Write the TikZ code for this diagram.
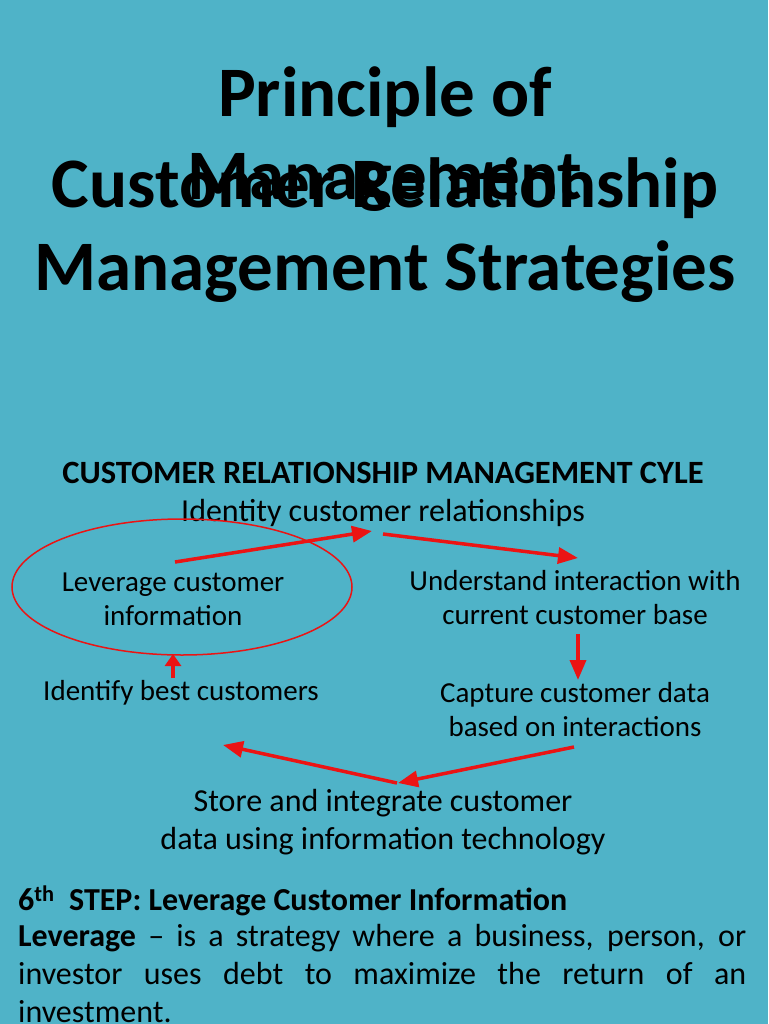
\documentclass[tikz,border=0pt]{standalone}
\usepackage{fontspec}
\setmainfont{Carlito}
\usetikzlibrary{positioning, arrows.meta}
\definecolor{slidebg}{RGB}{79,179,200}
\definecolor{cyclered}{RGB}{235,20,20}
\begin{document}
\begin{tikzpicture}[x=1pt, y=-1pt,
    title/.style={font=\fontsize{71}{83}\selectfont, align=center, text=black},
    step label/.style={font=\fontsize{29}{34}\selectfont, align=center},
    cycle arrow/.style={draw=cyclered, line width=3.5pt, -{Triangle[length=20pt,width=16pt]}}]

  \fill[slidebg] (0,0) rectangle (768,1024);
  \useasboundingbox (0,0) rectangle (768,1024);

  % overlapping titles
  \node[title] (title1) at (385,139) {\textbf{Principle of}\\\textbf{Management}};
  \node[title] (title2) at (385,230) {\textbf{Customer Relationship}\\\textbf{Management Strategies}};

  \node[font=\fontsize{32.5}{36}\selectfont\bfseries] (cycle) at (383,473) {CUSTOMER RELATIONSHIP MANAGEMENT CYLE};
  \node[step label, font=\fontsize{32}{36}\selectfont] (identity) at (383,513) {Identity customer relationships};
  \node[step label] (leverage) at (173,599) {Leverage customer\\information};
  \node[step label] (understand) at (575,598) {Understand interaction with\\current customer base};
  \node[step label] (best) at (181,693) {Identify best customers};
  \node[step label] (capture) at (575,710) {Capture customer data\\based on interactions};
  \node[step label, font=\fontsize{32}{38}\selectfont] (store) at (383,822) {Store and integrate customer\\data using information technology};

  \draw[cyclered, line width=1.5pt] (182,587) ellipse [x radius=170, y radius=68];

  \coordinate (a1) at (175,562); \coordinate (a2) at (372,531);
  \coordinate (b1) at (383,534); \coordinate (b2) at (578,558);
  \coordinate (c1) at (578,634); \coordinate (c2) at (578,680);
  \coordinate (d1) at (574,747); \coordinate (d2) at (398,783);
  \coordinate (e1) at (397,783); \coordinate (e2) at (223,745);
  \coordinate (f1) at (173,678); \coordinate (f2) at (173,654);
  \draw[cycle arrow] (a1) -- (a2);
  \draw[cycle arrow] (b1) -- (b2);
  \draw[cycle arrow] (c1) -- (c2);
  \draw[cycle arrow] (d1) -- (d2);
  \draw[cycle arrow] (e1) -- (e2);
  \draw[cycle arrow, -{Triangle[length=12pt,width=16pt]}] (f1) -- (f2);

  % sixth step text
  \node[anchor=north west, inner sep=0pt, font=\fontsize{32}{38}\selectfont\bfseries] (sixth) at (18,886) {6\textsuperscript{th}\ \ STEP: Leverage Customer Information};
  \begin{scope}
    \clip (0,0) rectangle (768,1024);
    \node[anchor=north west, inner sep=0pt, text width=728pt, align=justify,
          font=\fontsize{32}{38}\selectfont] (defn) at (18,924)
      {\hyphenpenalty=10000 \textbf{Leverage} -- is a strategy where a business, person, or\linebreak investor uses debt to maximize the return of an\linebreak investment.};
  \end{scope}
\end{tikzpicture}
\end{document}
